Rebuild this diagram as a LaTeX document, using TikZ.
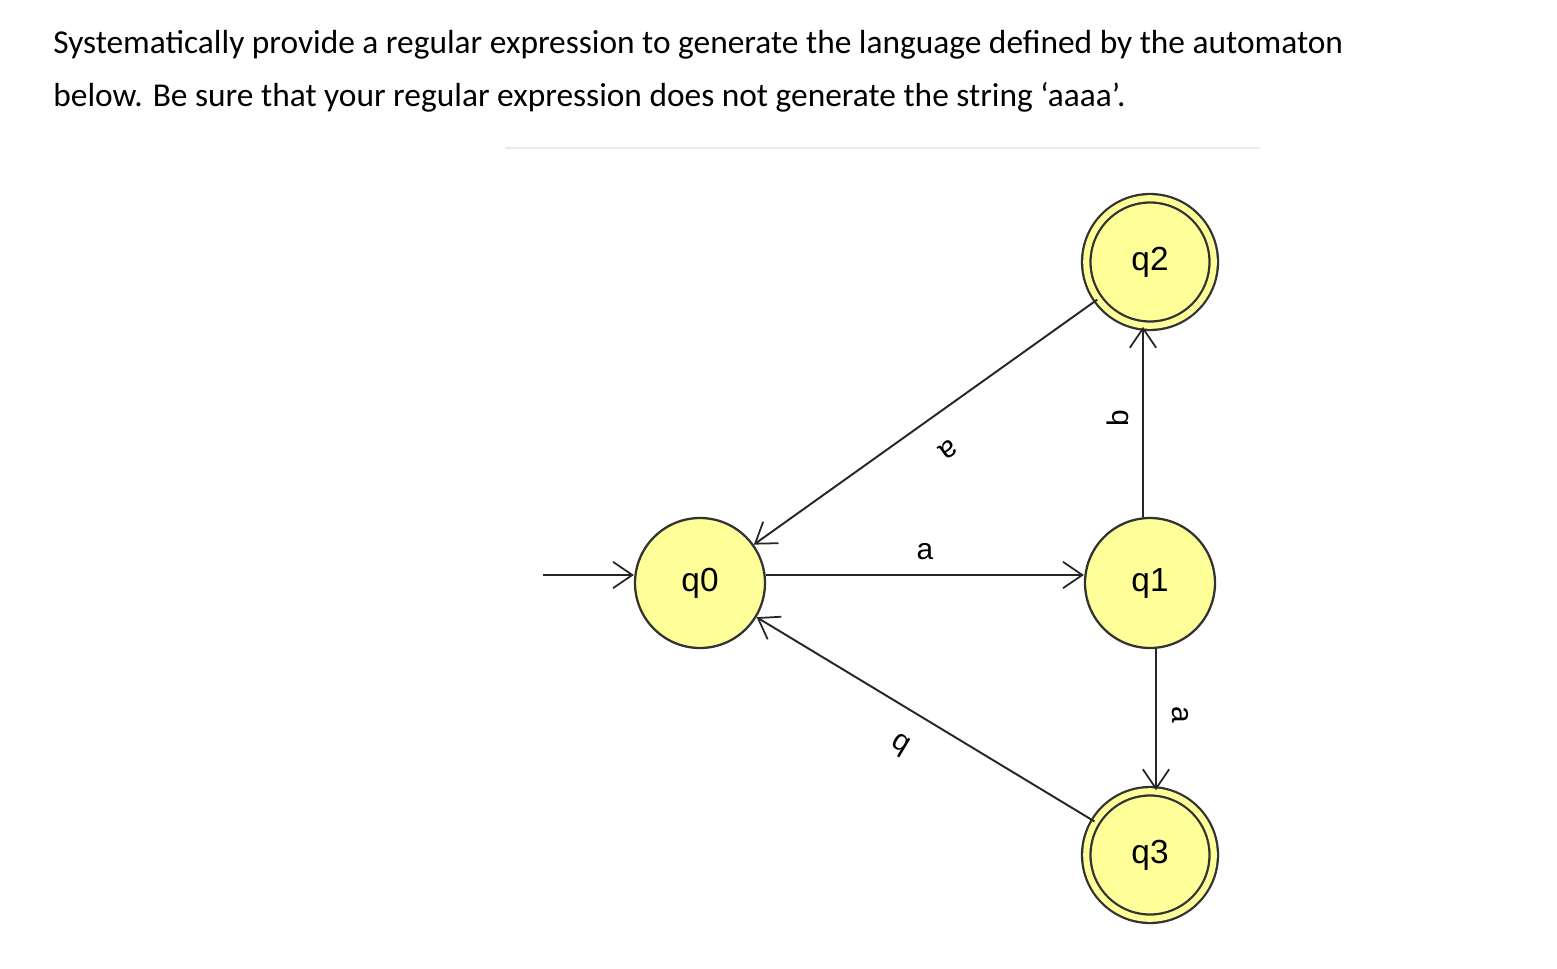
\documentclass[tikz,border=0pt]{standalone}
\usepackage{fontspec}
\setmainfont{Carlito}
\newfontfamily\lab{Liberation Sans}
\usetikzlibrary{arrows.meta}
\definecolor{sfill}{HTML}{FFFF99}
\begin{document}
\begin{tikzpicture}[x=0.02cm,y=-0.02cm,
  st/.style={circle,draw=black!80,line width=1.3pt,fill=sfill,minimum size=2.6cm,inner sep=0pt,font=\lab\fontsize{19}{19}\selectfont},
  acc/.style={st,double=sfill,double distance=3.5pt,minimum size=2.55cm},
  tr/.style={draw=black!85,line width=1.1pt,-{Straight Barb[length=11pt,width=15pt,line width=1pt]}},
  lb/.style={font=\lab\fontsize{17}{17}\selectfont,inner sep=0pt}]
\useasboundingbox (0,0) rectangle (1557,969);
\node[anchor=west,inner sep=0pt,font=\fontsize{19}{19}\selectfont] (t1) at (53,45) {Systematically provide a regular expression to generate the language defined by the automaton};
\node[anchor=west,inner sep=0pt,font=\fontsize{19}{19}\selectfont] (t2) at (53,97) {below. Be sure that your regular expression does not generate the string ‘aaaa’.};
\draw[black!8,line width=1pt] (505,148) -- (1260,148);
\node[st] (q0) at (700,583) {q0};
\node[st] (q1) at (1150,583) {q1};
\node[acc] (q2) at (1150,262) {q2};
\node[acc] (q3) at (1150,855) {q3};
\coordinate (s) at (543,575);
\draw[tr] (s) -- (q0.west|-s);
\draw[tr] (q0.east|-s) -- (q1.west|-s);
\draw[tr] (q2) -- (q0);
\draw[tr] (q3) -- (q0);
\draw[tr] ([xshift=-0.14cm]q1.north) -- ([xshift=-0.14cm]q2.south);
\draw[tr] ([xshift=0.12cm]q1.south) -- ([xshift=0.12cm]q3.north);
\node[lb] (la1) at (925,552) {a};
\node[lb,rotate=215] (la2) at (948,450) {a};
\node[lb,rotate=90] (lb1) at (1118,418) {b};
\node[lb,rotate=-90] (la3) at (1180,715) {a};
\node[lb,rotate=149] (lb2) at (900,745) {b};
\end{tikzpicture}
\end{document}
